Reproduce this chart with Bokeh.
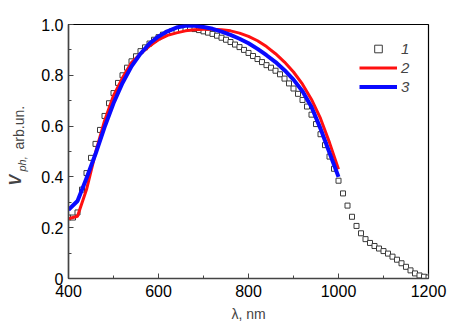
import math
from bokeh.plotting import figure
from bokeh.models import Range1d, FixedTicker, Label, Legend, LegendItem, PrintfTickFormatter
from bokeh.embed import file_html
from bokeh.resources import INLINE

# ---- data ----
lam1 = [400, 410, 420, 430, 440, 450, 460, 470, 480, 490,
        500, 510, 520, 530, 540, 550, 560, 570, 580, 590,
        600, 610, 620, 630, 640, 650, 660, 670, 680, 690,
        700, 710, 720, 730, 740, 750, 760, 770, 780, 790,
        800, 810, 820, 830, 840, 850, 860, 870, 880, 890,
        900, 910, 920, 930, 940, 950, 960, 970, 980, 990,
        1000, 1010, 1020, 1030, 1040, 1050, 1060, 1070, 1080, 1090,
        1100, 1110, 1120, 1130, 1140, 1150, 1160, 1170, 1180, 1190, 1200]
v1 = [0.24, 0.24, 0.26, 0.35, 0.415, 0.475, 0.53, 0.585, 0.64, 0.69,
      0.73, 0.77, 0.80, 0.83, 0.855, 0.875, 0.895, 0.91, 0.925, 0.94,
      0.95, 0.96, 0.967, 0.973, 0.978, 0.982, 0.985, 0.985, 0.982, 0.978,
      0.973, 0.968, 0.963, 0.956, 0.948, 0.94, 0.931, 0.921, 0.911, 0.90,
      0.888, 0.876, 0.864, 0.852, 0.84, 0.83, 0.818, 0.804, 0.787, 0.768,
      0.748, 0.727, 0.703, 0.677, 0.645, 0.608, 0.568, 0.525, 0.48, 0.432,
      0.385, 0.335, 0.287, 0.243, 0.207, 0.178, 0.155, 0.14, 0.128, 0.118,
      0.108, 0.098, 0.086, 0.074, 0.06, 0.046, 0.032, 0.02, 0.012, 0.007, 0.004]

lam23 = [400, 420, 440, 460, 480, 500, 520, 540, 560, 580,
         600, 620, 640, 660, 680, 700, 720, 740, 760, 780,
         800, 820, 840, 860, 880, 900, 920, 940, 960, 980, 1000]
v2 = [0.235, 0.245, 0.35, 0.495, 0.62, 0.72, 0.79, 0.85, 0.885, 0.915,
      0.94, 0.957, 0.967, 0.975, 0.979, 0.981, 0.981, 0.979, 0.975, 0.966,
      0.953, 0.936, 0.913, 0.885, 0.852, 0.813, 0.765, 0.705, 0.63, 0.535, 0.43]
v3 = [0.27, 0.305, 0.395, 0.49, 0.595, 0.69, 0.77, 0.835, 0.885, 0.925,
      0.953, 0.973, 0.988, 0.995, 0.995, 0.99, 0.983, 0.972, 0.959, 0.944,
      0.926, 0.904, 0.879, 0.852, 0.82, 0.783, 0.737, 0.675, 0.59, 0.495, 0.40]

series_labels = ["1", "2", "3"]
x_ticks = [400, 600, 800, 1000, 1200]
x_minor = [500, 700, 900, 1100]
y_ticks = [0, 0.2, 0.4, 0.6, 0.8, 1.0]
y_minor = [0.1, 0.3, 0.5, 0.7, 0.9]

FONT = "Liberation Sans"

p = figure(width=474, height=335, x_range=Range1d(400, 1200), y_range=Range1d(0, 1.0),
           output_backend="svg", toolbar_location=None,
           min_border_left=68, min_border_right=46, min_border_top=24, min_border_bottom=57)

p.xgrid.visible = False
p.ygrid.visible = False
p.outline_line_color = "black"
p.outline_line_width = 1.2

for ax in (p.xaxis[0], p.yaxis[0]):
    ax.axis_line_color = "#444444"
    ax.axis_line_width = 1.5
    ax.major_tick_line_color = "#444444"
    ax.minor_tick_line_color = "#444444"
    ax.major_tick_in = 5
    ax.major_tick_out = 0
    ax.minor_tick_in = 3
    ax.minor_tick_out = 0
    ax.major_label_text_font = FONT
    ax.major_label_text_font_size = "16px"
    ax.major_label_text_color = "black"

p.xaxis.ticker = FixedTicker(ticks=x_ticks, minor_ticks=x_minor)
p.yaxis.ticker = FixedTicker(ticks=y_ticks, minor_ticks=y_minor)
p.yaxis.formatter = PrintfTickFormatter(format="%.1f")
p.yaxis.major_label_overrides = {0: "0"}
p.yaxis.major_label_standoff = 5
p.xaxis.major_label_standoff = 6

p.xaxis.axis_label = "λ, nm"
p.xaxis.axis_label_text_font = FONT
p.xaxis.axis_label_text_font_size = "14px"
p.xaxis.axis_label_text_font_style = "normal"
p.xaxis.axis_label_standoff = 6

r1 = p.scatter(lam1, v1, marker="square", size=5, fill_color="white",
               line_color="#3a3a3a", line_width=1)
r2 = p.line(lam23, v2, line_color="#ff1010", line_width=3, line_join="round")
r3 = p.line(lam23, v3, line_color="#0a0aff", line_width=4, line_join="round")

legend = Legend(items=[LegendItem(label=series_labels[0], renderers=[r1]),
                       LegendItem(label=series_labels[1], renderers=[r2]),
                       LegendItem(label=series_labels[2], renderers=[r3])],
                location=(291, 182), glyph_width=38, glyph_height=19, label_height=19,
                spacing=0, padding=0, margin=0, label_standoff=4,
                border_line_color=None, background_fill_alpha=0,
                label_text_font=FONT, label_text_font_size="15px",
                label_text_font_style="italic")
p.add_layout(legend)

# y-axis title with subscript: three rotated labels kept outside the frame clip
ylab_parts = [("V", "16px", "bold italic", 282, 0.366),
              ("ph,", "11px", "italic", 296, 0.421),
              ("arb.un.", "14px", "normal", 291, 0.508)]
for txt, fs, style, xx, yy in ylab_parts:
    p.add_layout(Label(x=xx, y=yy, text=txt, angle=math.pi / 2,
                       text_font=FONT, text_font_size=fs, text_font_style=style,
                       text_align="left", text_baseline="alphabetic"), "right")

open("out.html", "w").write(file_html(p, INLINE))
